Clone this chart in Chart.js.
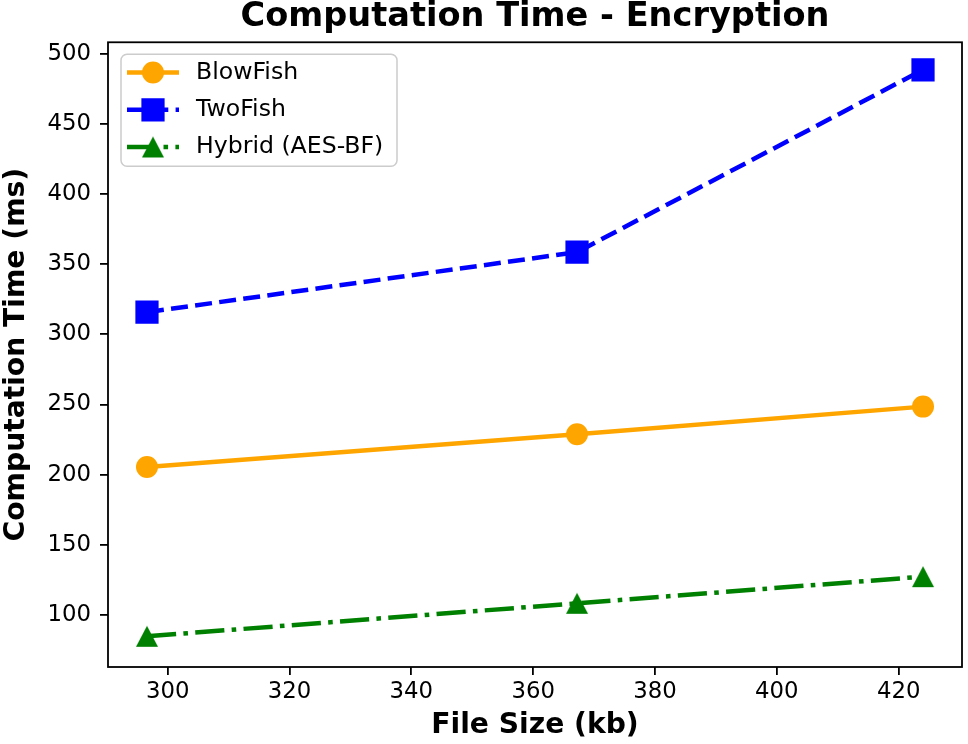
<!DOCTYPE html>
<html>
<head>
<meta charset="utf-8">
<title>Computation Time - Encryption</title>
<script src="https://cdn.jsdelivr.net/npm/chart.js@4.4.1/dist/chart.umd.min.js"></script>
<style>
  html, body { margin: 0; padding: 0; background: #fff; overflow: hidden; }
  #wrap { width: 968px; height: 744px; }
  canvas { display: block; }
</style>
</head>
<body>
<div id="wrap"><canvas id="chart" width="968" height="744"></canvas></div>
<script>
// values
const fileSizes = [296.6, 367.2, 424.0];
const blowFish = [205.5, 228.8, 248.5];
const twoFish = [315.8, 358.6, 488.6];
const hybrid = [84.8, 108.3, 127.3];
const seriesNames = ['BlowFish', 'TwoFish', 'Hybrid (AES-BF)'];
const xTicks = [300, 320, 340, 360, 380, 400, 420];
const yTicks = [100, 150, 200, 250, 300, 350, 400, 450, 500];

const FONT = "'DejaVu Sans', sans-serif";

// matplotlib-like '^' marker (centred on its bounding box)
function makeTriangle(color) {
  const c = document.createElement('canvas');
  c.width = 24;
  c.height = 23;
  const g = c.getContext('2d');
  g.fillStyle = color;
  g.beginPath();
  g.moveTo(12, 1);
  g.lineTo(23, 22);
  g.lineTo(1, 22);
  g.closePath();
  g.fill();
  return c;
}

function toPoints(ys) {
  return fileSizes.map((x, i) => ({ x: x, y: ys[i] }));
}

// box around the plot area (all four spines)
const framePlugin = {
  id: 'frame',
  afterDatasetsDraw(chart) {
    const { ctx, chartArea: a } = chart;
    ctx.save();
    ctx.strokeStyle = '#000';
    ctx.lineWidth = 1.8;
    ctx.strokeRect(a.left, a.top, a.right - a.left, a.bottom - a.top);
    ctx.restore();
  }
};

// legend inside the plot, upper left, line + marker samples
const legendPlugin = {
  id: 'mplLegend',
  afterDatasetsDraw(chart) {
    const { ctx, chartArea: a } = chart;
    const x0 = a.left + 13, y0 = a.top + 12, w = 276, h = 112, rowH = 37.2;
    ctx.save();
    ctx.beginPath();
    ctx.roundRect(x0, y0, w, h, 6);
    ctx.fillStyle = 'rgba(255,255,255,0.8)';
    ctx.fill();
    ctx.strokeStyle = '#cccccc';
    ctx.lineWidth = 1.5;
    ctx.stroke();

    chart.data.datasets.forEach((ds, i) => {
      const cy = y0 + 18.3 + i * rowH;
      ctx.save();
      ctx.strokeStyle = ds.borderColor;
      ctx.lineWidth = ds.borderWidth;
      ctx.setLineDash(ds.borderDash || []);
      ctx.beginPath();
      ctx.moveTo(x0 + 6, cy);
      ctx.lineTo(x0 + 58, cy);
      ctx.stroke();
      ctx.restore();

      ctx.fillStyle = ds.pointBackgroundColor;
      ctx.strokeStyle = ds.pointBorderColor;
      ctx.lineWidth = ds.pointBorderWidth;
      Chart.helpers.drawPoint(ctx, {
        pointStyle: ds.pointStyle,
        radius: ds.pointRadius,
        borderWidth: ds.pointBorderWidth,
        rotation: 0
      }, x0 + 32, cy);

      ctx.fillStyle = '#000';
      ctx.font = '23.6px ' + FONT;
      ctx.textAlign = 'left';
      ctx.textBaseline = 'middle';
      ctx.fillText(ds.label, x0 + 75, cy);
    });
    ctx.restore();
  }
};

const tickFont = { family: FONT, size: 22.8 };
const labelFont = { family: FONT, size: 28.2, weight: 'bold' };
const gridOpts = {
  drawOnChartArea: false,
  drawTicks: true,
  tickLength: 8,
  tickWidth: 1.8,
  tickColor: '#000',
  color: '#000',
  lineWidth: 1.8
};

// fixed axis boxes, no extra room for edge labels
function fixBox(s, size) {
  if (s.isHorizontal()) s.height = size; else s.width = size;
  s.paddingLeft = 0;
  s.paddingRight = 0;
  s.paddingTop = 0;
  s.paddingBottom = 0;
}

const chart = new Chart(document.getElementById('chart'), {
  type: 'line',
  data: {
    datasets: [{
      label: seriesNames[0],
      data: toPoints(blowFish),
      borderColor: '#ffa500',
      backgroundColor: '#ffa500',
      borderWidth: 4.5,
      borderJoinStyle: 'round',
      pointStyle: 'circle',
      pointRadius: 10,
      pointBorderWidth: 2,
      pointBackgroundColor: '#ffa500',
      pointBorderColor: '#ffa500'
    }, {
      label: seriesNames[1],
      data: toPoints(twoFish),
      borderColor: '#0000ff',
      backgroundColor: '#0000ff',
      borderWidth: 4.5,
      borderDash: [17, 7.3],
      borderJoinStyle: 'round',
      pointStyle: 'rect',
      pointRadius: 15,
      pointBorderWidth: 2,
      pointBackgroundColor: '#0000ff',
      pointBorderColor: '#0000ff'
    }, {
      label: seriesNames[2],
      data: toPoints(hybrid),
      borderColor: '#008000',
      backgroundColor: '#008000',
      borderWidth: 4.5,
      borderDash: [29.2, 7.3, 4.6, 7.3],
      borderJoinStyle: 'round',
      pointStyle: makeTriangle('#008000'),
      pointRadius: 11,
      pointBorderWidth: 0,
      pointBackgroundColor: '#008000',
      pointBorderColor: '#008000'
    }]
  },
  options: {
    responsive: false,
    animation: false,
    devicePixelRatio: 1,
    events: [],
    layout: { autoPadding: false, padding: { left: 0, right: 6, top: 0, bottom: 0 } },
    elements: { line: { tension: 0 } },
    plugins: {
      legend: { display: false },
      tooltip: { enabled: false },
      title: {
        display: true,
        text: 'Computation Time - Encryption',
        fullSize: false,
        color: '#000',
        font: { family: FONT, size: 33.6, weight: 'bold', lineHeight: 1.05 },
        padding: { top: 0, bottom: 7 }
      }
    },
    scales: {
      x: {
        type: 'linear',
        min: 290.2,
        max: 430.4,
        afterBuildTicks: (s) => { s.ticks = xTicks.map(v => ({ value: v })); },
        afterFit: (s) => fixBox(s, 77),
        ticks: { font: tickFont, color: '#000', padding: 3, maxRotation: 0, autoSkip: false, callback: (v) => String(v) },
        grid: gridOpts,
        border: { display: false },
        title: { display: true, text: 'File Size (kb)', color: '#000', font: labelFont, padding: { top: 0, bottom: 1 } }
      },
      y: {
        type: 'linear',
        min: 62.9,
        max: 508.2,
        afterBuildTicks: (s) => { s.ticks = yTicks.map(v => ({ value: v })); },
        afterFit: (s) => fixBox(s, 108),
        ticks: { font: tickFont, color: '#000', padding: 9, autoSkip: false, callback: (v) => String(v) },
        grid: gridOpts,
        border: { display: false },
        title: { display: true, text: 'Computation Time (ms)', color: '#000', font: labelFont, padding: { top: 0, bottom: 0 } }
      }
    }
  },
  plugins: [framePlugin, legendPlugin]
});
</script>
</body>
</html>
